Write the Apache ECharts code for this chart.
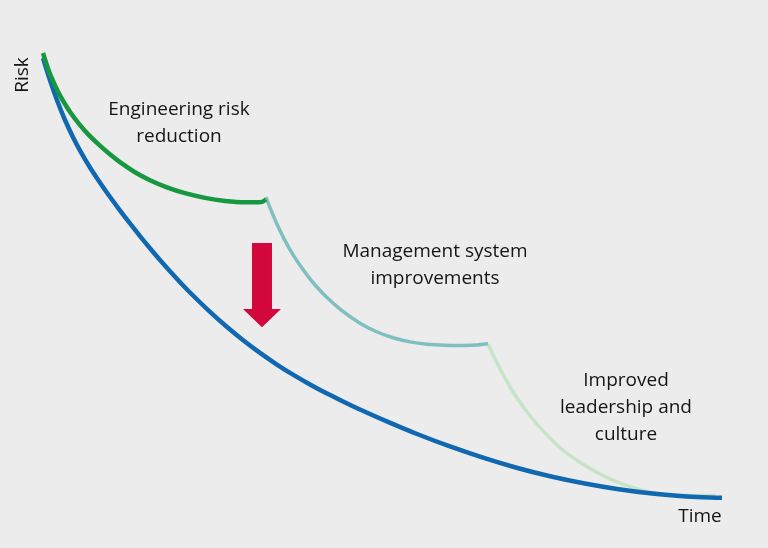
<!DOCTYPE html>
<html>
<head>
<meta charset="utf-8">
<script src="https://cdn.jsdelivr.net/npm/echarts@6/dist/echarts.min.js"></script>
<style>
  html, body { margin: 0; padding: 0; background: #ececec; }
  #chart { width: 768px; height: 548px; }
</style>
</head>
<body>
<div id="chart"></div>
<script>
// Overall risk curve (blue) [time, risk]
const overallRisk = [
  [0.15, 98.65], [1.18, 93.63], [2.21, 89.19], [3.38, 84.75], [4.56, 80.90],
  [5.74, 77.51], [7.06, 74.10], [8.24, 71.35], [9.56, 68.43], [11.18, 65.07],
  [12.94, 61.55], [14.41, 58.72], [15.88, 55.99], [17.35, 53.35], [18.82, 50.83],
  [20.51, 48.05], [22.21, 45.40], [24.71, 41.73], [27.21, 38.34], [29.63, 35.31],
  [32.06, 32.53], [34.49, 29.98], [36.91, 27.65], [39.41, 25.45], [41.91, 23.41],
  [44.34, 21.59], [46.76, 19.84], [50.96, 17.00], [55.15, 14.35], [60.00, 11.55],
  [64.85, 9.04], [69.78, 6.79], [74.71, 4.89], [79.63, 3.32], [84.56, 2.04],
  [89.41, 1.08], [94.26, 0.40], [97.13, 0.16], [100, 0.04]
];
// Stage 1: Engineering risk reduction (green)
const engineeringStage = [
  [0.15, 99.78], [0.88, 96.32], [1.62, 93.50], [2.35, 91.12], [3.24, 88.68],
  [4.26, 86.26], [5.44, 83.88], [6.76, 81.59], [8.24, 79.39], [9.85, 77.24],
  [11.62, 75.13], [13.68, 73.05], [15.88, 71.26], [18.38, 69.66], [21.03, 68.34],
  [23.97, 67.29], [26.91, 66.61], [29.85, 66.30], [31.76, 66.32], [32.35, 66.39],
  [32.94, 66.93]
];
// Stage 2: Management system improvements (teal)
const managementStage = [
  [32.94, 67.49], [33.53, 65.09], [34.56, 61.37], [35.74, 57.71], [36.91, 54.57],
  [38.09, 51.84], [39.41, 49.15], [40.59, 47.04], [41.91, 44.96], [44.26, 41.82],
  [46.76, 39.19], [49.12, 37.33], [51.62, 35.92], [54.12, 35.00], [56.62, 34.48],
  [59.26, 34.24], [61.47, 34.19], [63.68, 34.28], [65.59, 34.66]
];
// Stage 3: Improved leadership and culture (light green)
const leadershipStage = [
  [65.59, 34.53], [66.62, 31.17], [68.09, 26.91], [69.56, 23.09], [71.91, 18.16],
  [74.41, 13.90], [76.76, 10.54], [79.26, 7.85], [81.76, 5.61], [84.26, 3.81],
  [86.62, 2.47], [89.12, 1.39], [91.62, 0.83], [94.12, 0.61], [99.12, 0.56]
];
// Down arrow: [x, top, headBase, tip]
const arrowData = [[32.35, 57.2, 42.4, 38.3]];

const labels = {
  engineering: 'Engineering risk\nreduction',
  management: 'Management system\nimprovements',
  leadership: 'Improved\nleadership and\nculture',
  xName: 'Time',
  yName: 'Risk'
};

const FONT = '"Open Sans", Lato, sans-serif';
const chart = echarts.init(document.getElementById('chart'));

function lineSeries(name, data, color, width, z) {
  return {
    name: name, type: 'line', data: data, smooth: 0.3, symbol: 'none', clip: false,
    lineStyle: { color: color, width: width }, z: z, silent: true
  };
}

function textEl(text, x, y, size) {
  return {
    type: 'text', x: x, y: y,
    style: {
      text: text, fill: '#151515', font: size + 'px ' + FONT,
      align: 'center', verticalAlign: 'middle', lineHeight: 27
    }
  };
}

chart.setOption({
  backgroundColor: '#ececec',
  animation: false,
  grid: { left: 42, right: 46, top: 52, bottom: 50 },
  xAxis: { type: 'value', min: 0, max: 100, show: false },
  yAxis: { type: 'value', min: 0, max: 100, show: false },
  series: [
    lineSeries('Improved leadership and culture', leadershipStage, '#c6e4c8', 3.5, 2),
    lineSeries('Management system improvements', managementStage, '#80bfc0', 3.5, 3),
    lineSeries('Overall risk', overallRisk, '#1068b0', 4.5, 4),
    lineSeries('Engineering risk reduction', engineeringStage, '#17973f', 4.5, 5),
    {
      type: 'custom', name: 'arrow', data: arrowData, z: 6, silent: true,
      dimensions: ['x', 'top', 'base', 'tip'],
      encode: { x: 0, y: [1, 2, 3] },
      renderItem: function (params, api) {
        const top = api.coord([api.value(0), api.value(1)]);
        const base = api.coord([api.value(0), api.value(2)]);
        const tip = api.coord([api.value(0), api.value(3)]);
        const cx = top[0], sw = 10, hw = 19;
        return {
          type: 'polygon',
          shape: { points: [
            [cx - sw, top[1]], [cx + sw, top[1]], [cx + sw, base[1]],
            [cx + hw, base[1]], [tip[0], tip[1]], [cx - hw, base[1]], [cx - sw, base[1]]
          ] },
          style: { fill: '#d2073b' }
        };
      }
    }
  ],
  graphic: [
    textEl(labels.engineering, 179, 123, 19),
    textEl(labels.management, 435, 265, 19),
    textEl(labels.leadership, 626, 408, 19),
    textEl(labels.xName, 700, 517, 19),
    {
      type: 'text', x: 23, y: 75, rotation: Math.PI / 2,
      style: {
        text: labels.yName, fill: '#151515', font: '19px ' + FONT,
        align: 'center', verticalAlign: 'middle'
      }
    }
  ]
});
</script>
</body>
</html>
